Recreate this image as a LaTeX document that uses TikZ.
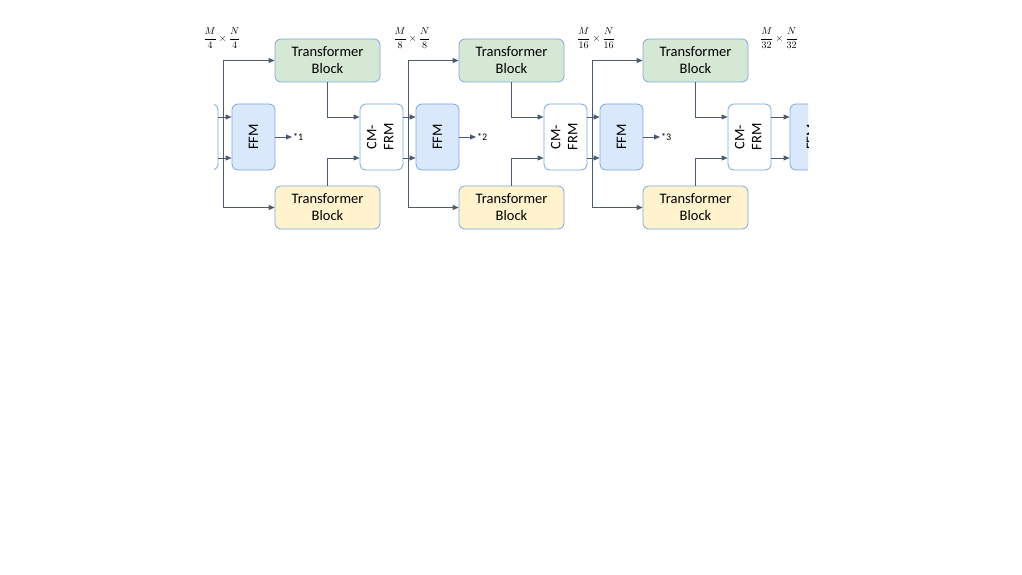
\documentclass[tikz,border=0pt]{standalone}
\usepackage{fontspec}
\setmainfont{Carlito}
\usetikzlibrary{arrows.meta}
\definecolor{bd}{HTML}{7EA6E0}
\definecolor{ln}{HTML}{4D5B70}
\definecolor{gr}{HTML}{D5E8D4}
\definecolor{ye}{HTML}{FFF2CC}
\definecolor{bl}{HTML}{DAE8FC}
\begin{document}
\begin{tikzpicture}[x=1pt,y=-1pt,
  box/.style={draw=bd,line width=0.8pt,rounded corners=6pt,inner sep=0pt,font=\fontsize{14.5}{17}\selectfont,align=center},
  tb/.style={box,minimum width=105pt,minimum height=43pt},
  vb/.style={box,minimum width=43pt,minimum height=66pt},
  ar/.style={draw=ln,line width=0.8pt,-{Triangle[length=6pt,width=5pt]}}]
\useasboundingbox (0,0) rectangle (1022,575);
\begin{scope}
\clip (214,0) rectangle (808,575);
\node[vb,fill=white] (c0) at (196.5,137) {\rotatebox{90}{CM-}};
\foreach \i/\n in {0/1,1/2,2/3}{
  \pgfmathsetmacro{\dx}{184*\i}
  \node[tb,fill=gr] (t\n) at (327.5+\dx,60.5) {Transformer\\Block};
  \node[tb,fill=ye] (b\n) at (327.5+\dx,207.5) {Transformer\\Block};
  \node[vb,fill=bl] (f\n) at (253.5+\dx,137) {\rotatebox{90}{FFM}};
  \node[vb,fill=white] (c\n) at (381.5+\dx,137) {\rotatebox{90}{\begin{tabular}{@{}c@{}}CM-\\FRM\end{tabular}}};
  \coordinate (o\n) at (292+\dx,137);
  \node[font=\fontsize{10}{12}\selectfont,anchor=west,inner sep=1pt] (s\n) at (o\n) {*\n};
  \draw[ar] (f\n.east) -- (o\n);
  \draw[ar] (t\n.south) |- ([yshift=20pt]c\n.west);
  \draw[ar] (b\n.north) |- ([yshift=-21pt]c\n.west);
}
\node[vb,fill=bl] (f4) at (811.5,137) {\rotatebox{90}{FFM}};
\foreach \p/\n in {0/1,1/2,2/3}{
  \coordinate (v\n) at ([xshift=5pt]c\p.east);
  \draw[ar] ([yshift=20pt]c\p.east) -- ([yshift=20pt]f\n.west);
  \draw[ar] ([yshift=-21pt]c\p.east) -- ([yshift=-21pt]f\n.west);
  \draw[ar] (v\n |- t\n.west) -- (t\n.west);
  \draw[ar] (v\n |- b\n.west) -- (b\n.west);
  \draw[draw=ln,line width=0.8pt] (v\n |- t\n.west) -- (v\n |- b\n.west);
}
\draw[ar] ([yshift=20pt]c3.east) -- ([yshift=20pt]f4.west);
\draw[ar] ([yshift=-21pt]c3.east) -- ([yshift=-21pt]f4.west);
\end{scope}
\foreach \x/\k in {222/4,412/8,596/16,779/32}
  \node[font=\fontsize{10}{12}\selectfont] (m\k) at (\x,38) {$\displaystyle\frac{M}{\k}\times\frac{N}{\k}$};
\end{tikzpicture}
\end{document}
